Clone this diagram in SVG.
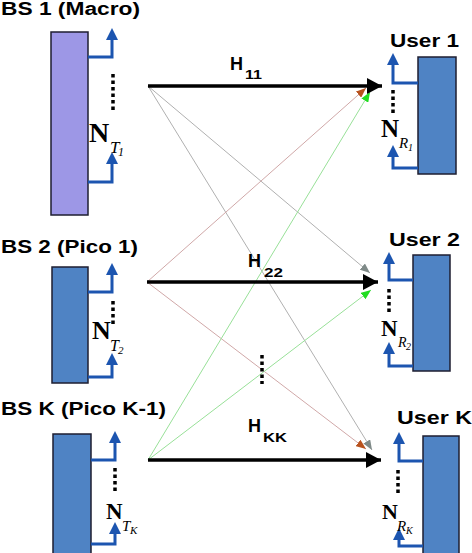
<svg xmlns="http://www.w3.org/2000/svg" width="472" height="553" viewBox="0 0 472 553">
<defs>
<style>
.title{font-family:"Liberation Sans",Arial,sans-serif;font-weight:bold;font-size:18px;fill:#000}
.hl{font-family:"Liberation Sans",Arial,sans-serif;font-weight:bold;font-size:18px;fill:#000}
.hs{font-family:"Liberation Sans",Arial,sans-serif;font-weight:bold;font-size:13px;fill:#000}
.n{font-family:"Liberation Serif","Times New Roman",serif;font-weight:bold;fill:#000}
.sub{font-family:"Liberation Serif","Times New Roman",serif;font-style:italic;fill:#000}
.macro{fill:#9d97e6;stroke:#1e1e30;stroke-width:1.5}
.pico{fill:#4f83c4;stroke:#1e1e30;stroke-width:1.5}
.ant{fill:none;stroke:#1c55b0;stroke-width:3}
.tip{fill:#1c55b0}
.dots{stroke:#000;stroke-width:3.5;stroke-dasharray:3.5,3;fill:none}
.main{stroke:#000;stroke-width:3.5;fill:none}
.gray{stroke:#b0b0b0;stroke-width:1;fill:none}
.brown{stroke:#d0a8a8;stroke-width:1;fill:none}
.green{stroke:#98e098;stroke-width:1;fill:none}
</style>
<marker id="big" markerUnits="userSpaceOnUse" markerWidth="16" markerHeight="16" refX="15" refY="8" orient="auto"><path d="M0,0 L15,8 L0,16 z" fill="#000"/></marker>
<marker id="mg" markerUnits="userSpaceOnUse" markerWidth="10" markerHeight="8" refX="10" refY="4" orient="auto"><path d="M0,0 L10,4 L0,8 z" fill="#7f8a88"/></marker>
<marker id="mb" markerUnits="userSpaceOnUse" markerWidth="10" markerHeight="8" refX="10" refY="4" orient="auto"><path d="M0,0 L10,4 L0,8 z" fill="#b8521e"/></marker>
<marker id="mgr" markerUnits="userSpaceOnUse" markerWidth="10" markerHeight="8" refX="10" refY="4" orient="auto"><path d="M0,0 L10,4 L0,8 z" fill="#22dd22"/></marker>
</defs>
<rect width="472" height="553" fill="#fff"/>

<g id="connectors">
<line class="gray" x1="148" y1="86" x2="370" y2="273" marker-end="url(#mg)"/>
<line class="gray" x1="148" y1="86" x2="372" y2="450" marker-end="url(#mg)"/>
<line class="brown" x1="147" y1="282" x2="366" y2="88" marker-end="url(#mb)"/>
<line class="brown" x1="147" y1="282" x2="366" y2="449" marker-end="url(#mb)"/>
<line class="green" x1="148" y1="460" x2="370" y2="92" marker-end="url(#mgr)"/>
<line class="green" x1="148" y1="460" x2="371" y2="290" marker-end="url(#mgr)"/>
<line class="main" x1="148" y1="86" x2="382" y2="86" marker-end="url(#big)"/>
<line class="main" x1="147" y1="282" x2="378" y2="282" marker-end="url(#big)"/>
<line class="main" x1="148" y1="460" x2="381" y2="460" marker-end="url(#big)"/>
<line class="dots" x1="262" y1="355" x2="262" y2="384"/>
<text class="hl" x="230" y="70">H</text><text class="hs" x="245" y="79" textLength="17" lengthAdjust="spacingAndGlyphs">11</text>
<text class="hl" x="248" y="267">H</text><text class="hs" x="264" y="277" textLength="19" lengthAdjust="spacingAndGlyphs">22</text>
<text class="hl" x="248" y="432">H</text><text class="hs" x="263" y="442" textLength="24" lengthAdjust="spacingAndGlyphs">KK</text>
</g>

<g id="bs1">
<text class="title" x="1" y="15" textLength="139" lengthAdjust="spacingAndGlyphs">BS 1 (Macro)</text>
<rect class="macro" x="51" y="32" width="37" height="183"/>
<polyline class="ant" points="88,57 112,57 112,38"/>
<polygon class="tip" points="112,28 106,40 118,40"/>
<polyline class="ant" points="88,182 112,182 112,162"/>
<polygon class="tip" points="112,152 106,164 118,164"/>
<line class="dots" x1="113" y1="74" x2="113" y2="113"/>
<text class="n" x="89" y="142" font-size="28">N</text>
<text class="sub" x="110" y="153" font-size="17">T</text>
<text class="sub" x="118" y="156" font-size="12" font-style="normal">1</text>
</g>

<g id="bs2">
<text class="title" x="1" y="253" textLength="137" lengthAdjust="spacingAndGlyphs">BS 2 (Pico 1)</text>
<rect class="pico" x="52" y="267" width="36" height="116"/>
<polyline class="ant" points="88,292 112,292 112,272"/>
<polygon class="tip" points="112,263 106,275 118,275"/>
<polyline class="ant" points="88,377 112,377 112,362"/>
<polygon class="tip" points="112,353 106,365 118,365"/>
<line class="dots" x1="113" y1="301" x2="113" y2="326"/>
<text class="n" x="92" y="339" font-size="26">N</text>
<text class="sub" x="110" y="351" font-size="16">T</text>
<text class="sub" x="118" y="354" font-size="11" font-style="normal">2</text>
</g>

<g id="bsk">
<text class="title" x="1" y="415" textLength="165" lengthAdjust="spacingAndGlyphs">BS K (Pico K-1)</text>
<rect class="pico" x="53" y="434" width="38" height="125"/>
<polyline class="ant" points="91,460 115,460 115,440"/>
<polygon class="tip" points="115,431 109,443 121,443"/>
<polyline class="ant" points="91,544 115,544 115,531"/>
<polygon class="tip" points="115,522 109,534 121,534"/>
<line class="dots" x1="115" y1="468" x2="115" y2="494"/>
<text class="n" x="106" y="519" font-size="23">N</text>
<text class="sub" x="122" y="531" font-size="15">T</text>
<text class="sub" x="130" y="534" font-size="11">K</text>
</g>

<g id="user1">
<text class="title" x="390" y="47" textLength="69" lengthAdjust="spacingAndGlyphs">User 1</text>
<rect class="pico" x="418" y="57" width="38" height="117"/>
<polyline class="ant" points="418,83 393,83 393,62"/>
<polygon class="tip" points="393,53 387,65 399,65"/>
<polyline class="ant" points="418,168 393,168 393,154"/>
<polygon class="tip" points="393,145 387,157 399,157"/>
<line class="dots" x1="393" y1="90" x2="393" y2="116"/>
<text class="n" x="381" y="137" font-size="25">N</text>
<text class="sub" x="399" y="148" font-size="15">R</text>
<text class="sub" x="408" y="151" font-size="10" font-style="normal">1</text>
</g>

<g id="user2">
<text class="title" x="389" y="246" textLength="71" lengthAdjust="spacingAndGlyphs">User 2</text>
<rect class="pico" x="413" y="255" width="37" height="116"/>
<polyline class="ant" points="413,280 389,280 389,261"/>
<polygon class="tip" points="389,252 383,264 395,264"/>
<polyline class="ant" points="413,366 389,366 389,351"/>
<polygon class="tip" points="389,342 383,354 395,354"/>
<line class="dots" x1="389" y1="289" x2="389" y2="313"/>
<text class="n" x="381" y="336" font-size="23">N</text>
<text class="sub" x="398" y="347" font-size="14">R</text>
<text class="sub" x="406" y="350" font-size="10" font-style="normal">2</text>
</g>

<g id="userk">
<text class="title" x="397" y="424" textLength="75" lengthAdjust="spacingAndGlyphs">User K</text>
<rect class="pico" x="423" y="436" width="36" height="123"/>
<polyline class="ant" points="423,461 399,461 399,441"/>
<polygon class="tip" points="399,432 393,444 405,444"/>
<polyline class="ant" points="423,546 399,546 399,537"/>
<polygon class="tip" points="399,528 393,540 405,540"/>
<line class="dots" x1="398" y1="470" x2="398" y2="494"/>
<text class="n" x="382" y="519" font-size="22">N</text>
<text class="sub" x="397" y="531" font-size="15">R</text>
<text class="sub" x="406" y="534" font-size="10">K</text>
</g>
</svg>
